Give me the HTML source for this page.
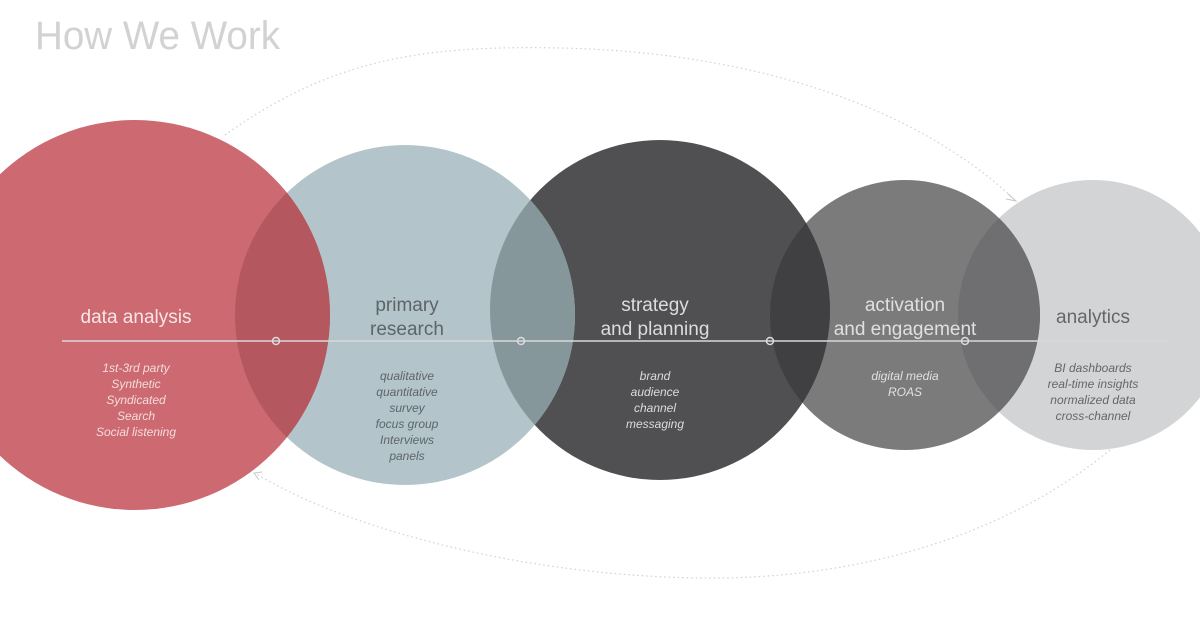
<!DOCTYPE html>
<html><head><meta charset="utf-8"><style>
html,body{margin:0;padding:0;background:#fff;width:1200px;height:630px;overflow:hidden}
text{font-family:"Liberation Sans",sans-serif}
.h{font-size:19px}
.s{font-size:12px;font-style:italic}
</style></head><body>
<svg width="1200" height="630" viewBox="0 0 1200 630" xmlns="http://www.w3.org/2000/svg">
<defs>
<clipPath id="cR"><circle cx="135" cy="315" r="195"/></clipPath>
<clipPath id="cD"><circle cx="660" cy="310" r="170"/></clipPath>
<clipPath id="cG"><circle cx="905" cy="315" r="135"/></clipPath>
</defs>
<text x="35" y="49" font-size="40" fill="#d2d2d2" textLength="245" lengthAdjust="spacingAndGlyphs">How We Work</text>
<path d="M225 135 C 330 60, 420 45, 560 48 C 760 52, 920 110, 1015 200" fill="none" stroke="#d0d0d0" stroke-width="1.2" stroke-dasharray="1.5 3"/>
<path d="M1008 194 L1016 201 L1006 199" fill="none" stroke="#c8c8c8" stroke-width="1"/>
<path d="M1110 450 C 1000 540, 850 580, 700 578 C 500 575, 330 520, 255 473" fill="none" stroke="#d0d0d0" stroke-width="1.2" stroke-dasharray="1.5 3"/>
<path d="M262 472 L254 473 L259 480" fill="none" stroke="#c8c8c8" stroke-width="1"/>
<circle cx="1093" cy="315" r="135" fill="#d3d4d6"/>
<circle cx="905" cy="315" r="135" fill="#7b7b7c"/>
<circle cx="1093" cy="315" r="135" fill="#6f6f71" clip-path="url(#cG)"/>
<circle cx="660" cy="310" r="170" fill="#505052"/>
<circle cx="905" cy="315" r="135" fill="#404042" clip-path="url(#cD)"/>
<circle cx="405" cy="315" r="170" fill="#b3c5ca"/>
<circle cx="405" cy="315" r="170" fill="#85979b" clip-path="url(#cD)"/>
<circle cx="135" cy="315" r="195" fill="#cd6970"/>
<circle cx="405" cy="315" r="170" fill="#b4575f" clip-path="url(#cR)"/>
<line x1="62" y1="341" x2="1168" y2="341" stroke="#d8d8d8" stroke-width="1.5"/>
<g fill="none" stroke="#dcdcdc" stroke-width="1.5">
<circle cx="276" cy="341" r="3.5"/><circle cx="521" cy="341" r="3.5"/><circle cx="770" cy="341" r="3.5"/><circle cx="965" cy="341" r="3.5"/>
</g>
<g text-anchor="middle">
<text class="h" x="136" y="323" fill="#f7e6e7">data analysis</text>
<g class="s" fill="#f4dcdd"><text x="136" y="372">1st-3rd party</text><text x="136" y="388">Synthetic</text><text x="136" y="404">Syndicated</text><text x="136" y="420">Search</text><text x="136" y="436">Social listening</text></g>
<text class="h" x="407" y="311" fill="#5d6569">primary</text><text class="h" x="407" y="335" fill="#5d6569">research</text>
<g class="s" fill="#5d6569"><text x="407" y="380">qualitative</text><text x="407" y="396">quantitative</text><text x="407" y="412">survey</text><text x="407" y="428">focus group</text><text x="407" y="444">Interviews</text><text x="407" y="460">panels</text></g>
<text class="h" x="655" y="311" fill="#dcdcdc">strategy</text><text class="h" x="655" y="335" fill="#dcdcdc">and planning</text>
<g class="s" fill="#dcdcdc"><text x="655" y="380">brand</text><text x="655" y="396">audience</text><text x="655" y="412">channel</text><text x="655" y="428">messaging</text></g>
<text class="h" x="905" y="311" fill="#e0e0e0">activation</text><text class="h" x="905" y="335" fill="#e0e0e0">and engagement</text>
<g class="s" fill="#e0e0e0"><text x="905" y="380">digital media</text><text x="905" y="396">ROAS</text></g>
<text class="h" x="1093" y="323" fill="#666">analytics</text>
<g class="s" fill="#666"><text x="1093" y="372">BI dashboards</text><text x="1093" y="388">real-time insights</text><text x="1093" y="404">normalized data</text><text x="1093" y="420">cross-channel</text></g>
</g>
</svg>
</body></html>
